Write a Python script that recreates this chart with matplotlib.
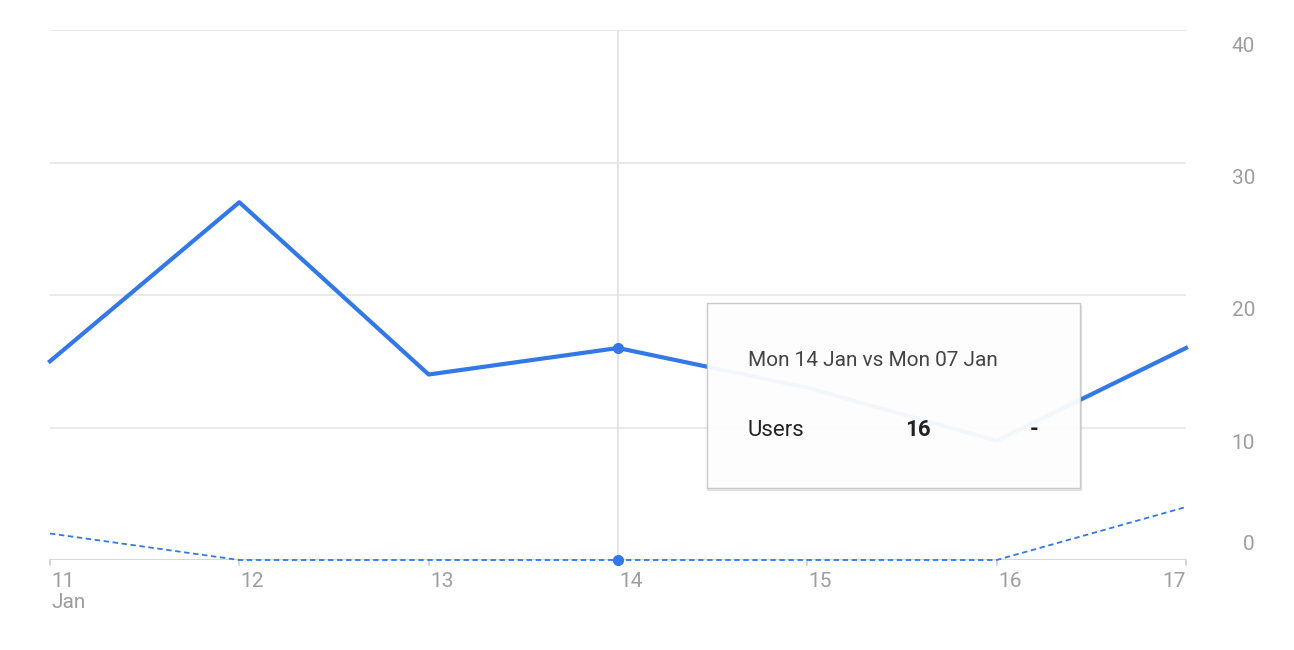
import matplotlib
matplotlib.use("Agg")
import matplotlib.pyplot as plt
from matplotlib.patches import Rectangle

days = [11, 12, 13, 14, 15, 16, 17]
tick_labels = ["11\nJan", "12", "13", "14", "15", "16", "17"]
users = [15, 27, 14, 16, 13, 9, 16]
users_prev = [2, 0, 0, 0, 0, 0, 4]
yticks = [0, 10, 20, 30, 40]

plt.rcParams['font.family'] = ['Roboto', 'DejaVu Sans']
W, H = 1294, 650
fig = plt.figure(figsize=(W/100, H/100), dpi=100)
ax = fig.add_axes([50/W, 1-560/H, (1186-50)/W, 530/H])
ax.set_xlim(11, 17)
ax.set_ylim(0, 40)
for s in ax.spines.values():
    s.set_visible(False)
ax.set_xticks([]); ax.set_yticks([])

gc = "#e6e6e6"
for v in yticks:
    ax.axhline(v, color=gc if v else "#d0d0d0", lw=1.2, zorder=0)
    gy = 560 - v*13.25
    ax.plot([1194/W, 1254/W], [1-gy/H]*2, transform=fig.transFigure,
            color=gc if v else "#d0d0d0", lw=1.2)
    ly = gy - 15 if v == 0 else gy + 16
    fig.text(1255/W, 1-ly/H, str(v), ha="right", va="center",
             fontsize=15, color="#9e9e9e")
ax.axvline(14, color="#e0e0e0", lw=1.2, zorder=0)
for d, lab in zip(days, tick_labels):
    ax.plot([d, d], [0, -0.35], color="#d0d0d0", lw=1.2, clip_on=False)
    fig.text(50/W + (d-11)*(1136/6)/W + (0.001 if d < 17 else 0), 1-572/H, lab,
             ha="left" if d < 17 else "right", va="top", fontsize=15,
             color="#9e9e9e", linespacing=1.15)

blue = "#3278e6"
ax.plot(days, users, color=blue, lw=3, zorder=3, clip_on=False)
ax.plot(days, users_prev, color=blue, lw=1.3, ls=(0, (3, 2)), zorder=3, clip_on=False)
i = days.index(14)
ax.plot([14], [users[i]], "o", color=blue, ms=7, zorder=4, clip_on=False)
ax.plot([14], [users_prev[i]], "o", color=blue, ms=7, zorder=4, clip_on=False)

# tooltip
x0, y0, x1, y1 = 707, 303, 1080, 488
fig.patches.append(Rectangle((x0/W, 1-(y1+2)/H), (x1-x0+1)/W, (y1-y0)/H,
                             transform=fig.transFigure, color="#000000", alpha=0.08, zorder=5))
fig.patches.append(Rectangle((x0/W, 1-y1/H), (x1-x0)/W, (y1-y0)/H, transform=fig.transFigure,
                             facecolor="white", edgecolor="#c8c8c8", lw=1, alpha=0.95, zorder=6))
fig.text(748/W, 1-360/H, "Mon 14 Jan vs Mon 07 Jan", fontsize=15, color="#444444",
         va="center", zorder=7)
fig.text(748/W, 1-430/H, "Users", fontsize=16, color="#222222", va="center", zorder=7)
fig.text(918/W, 1-430/H, str(users[i]), fontsize=16, color="#222222", va="center",
         ha="center", fontweight="bold", zorder=7)
fig.text(1034/W, 1-430/H, "-", fontsize=16, color="#222222", va="center", ha="center",
         fontweight="bold", zorder=7)

fig.savefig("out.png", dpi=100)
